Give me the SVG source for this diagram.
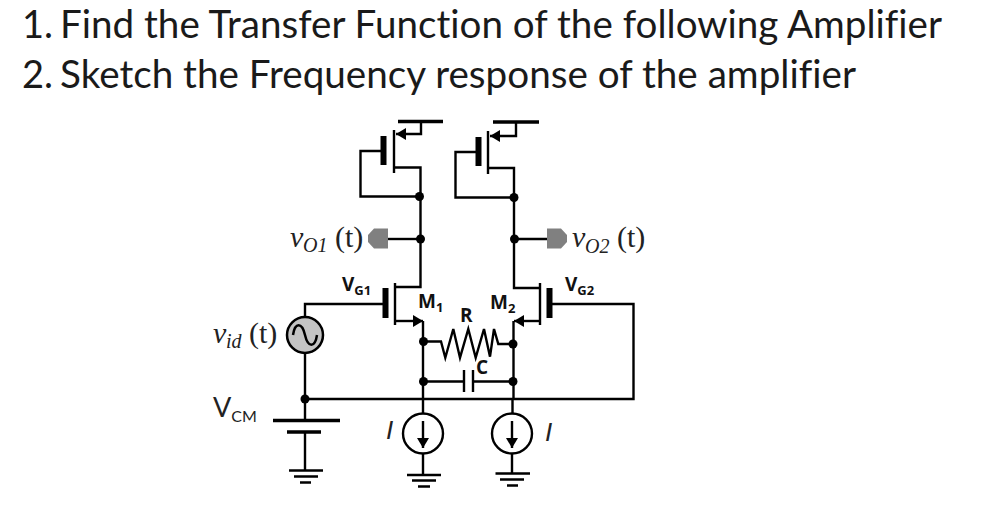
<svg xmlns="http://www.w3.org/2000/svg" width="985" height="531" viewBox="0 0 985 531">
<style>
.w{fill:none;stroke:#000;stroke-width:2.400;stroke-linejoin:miter}
.t{fill:none;stroke:#000;stroke-width:3.500}
.b{fill:none;stroke:#000;stroke-width:6}
.d{fill:#000}
.h{font-family:Lato,"Liberation Sans",sans-serif;font-size:38px;fill:#1a1a1a;font-variant-ligatures:none}
.s{font-family:"Liberation Serif",serif;font-size:30px;fill:#222}
.i{font-style:italic;font-size:30px}
.sub{font-style:italic;font-size:20px}
.l{font-family:"Open Sans","Liberation Sans",sans-serif;font-weight:700;font-size:19px;fill:#111}
.ls{font-size:13px}
.g{fill:#808080}
.it{font-family:"Liberation Sans",sans-serif;font-style:italic;font-size:26px;fill:#222}
</style>
<defs>
<marker id="a" markerUnits="userSpaceOnUse" markerWidth="11" markerHeight="12" refX="10" refY="6" orient="auto"><path d="M0 0L10 6L0 12Z" fill="#000"/></marker>
</defs>
<g id="title">
<text class="h" x="22" y="38">1.</text>
<text class="h" x="60" y="38" textLength="882" lengthAdjust="spacingAndGlyphs">Find the Transfer Function of the following Amplifier</text>
<text class="h" x="22" y="88">2.</text>
<text class="h" x="60" y="88" textLength="796" lengthAdjust="spacingAndGlyphs">Sketch the Frequency response of the amplifier</text>
</g>
<g id="connectors">
<path class="w" d="M421 122V134H396" marker-end="url(#a)"/>
<path class="w" d="M383 151H360.500V196.500H420"/>
<path class="w" d="M394 167.500H420.500V287H395"/>
<path class="w" d="M516 122V136H490" marker-end="url(#a)"/>
<path class="w" d="M478 152H455.500V197.500H514"/>
<path class="w" d="M488 168H514V288H540"/>
<path class="w" d="M420 239H388"/>
<path class="w" d="M514 239H547"/>
<path class="w" d="M305 317V304H385"/>
<path class="w" d="M395 321H423" marker-end="url(#a)"/>
<path class="w" d="M540 321H514" marker-end="url(#a)"/>
<path class="w" d="M423 321V399"/>
<path class="w" d="M513.500 321V399"/>
<path class="w" d="M423 341.500H441L445.300 357.700L453.300 329L460 357.700L468.300 329L475.700 357.700L484 329L490 356.700L494 329L498.300 344H513.500"/>
<path class="w" d="M423 381.500H464M473 381.500H513.500"/>
<path class="w" d="M552 304H633.500V399H305"/>
<path class="w" d="M305 353V420M305 432V471"/>
<path class="w" d="M423 399V413M423 453.500V475"/>
<path class="w" d="M512.500 399V413M512 453.500V473.500"/>
</g>
<g id="M3">
<path class="t" d="M398 121.500H443"/>
<path class="w" d="M394 130V173"/>
<path class="b" d="M383.500 136V165"/>
</g>
<g id="M4">
<path class="t" d="M493 122H539"/>
<path class="w" d="M488 131V174"/>
<path class="b" d="M478.500 137V166"/>
</g>
<g id="M1">
<path class="w" d="M395 283V325"/>
<path class="b" d="M385.500 288V318"/>
<text class="l" x="418" y="308">M<tspan class="ls" dy="4">1</tspan></text>
</g>
<g id="M2">
<path class="w" d="M540 283V325"/>
<path class="b" d="M549.500 288V318"/>
<text class="l" x="490" y="309">M<tspan class="ls" dy="4">2</tspan></text>
</g>
<g id="R"><text class="l" x="460" y="322">R</text></g>
<g id="C">
<path class="w" d="M464 370V392M473 370V392"/>
<text class="l" x="476" y="374">C</text>
</g>
<g id="junctions">
<circle class="d" cx="419.500" cy="196.500" r="4.500"/>
<circle class="d" cx="420.500" cy="239" r="4.500"/>
<circle class="d" cx="514" cy="197.500" r="4.500"/>
<circle class="d" cx="514.500" cy="239" r="4.500"/>
<circle class="d" cx="423.500" cy="341.500" r="4.500"/>
<circle class="d" cx="423.500" cy="381.500" r="4.500"/>
<circle class="d" cx="513" cy="344" r="4.500"/>
<circle class="d" cx="513" cy="381.500" r="4.500"/>
<circle class="d" cx="305" cy="399" r="4.500"/>
</g>
<g id="vo1">
<path class="g" d="M388 228.500H374L368 235V242L374 248.500H388Z"/>
<text class="s" y="247"><tspan class="i" x="290">v</tspan><tspan class="sub" x="303" dy="5">O1</tspan><tspan x="335" dy="-5">(t)</tspan></text>
</g>
<g id="vo2">
<path class="g" d="M547 228.500H561L567 235V242L561 248.500H547Z"/>
<text class="s" y="247"><tspan class="i" x="572">v</tspan><tspan class="sub" x="585" dy="6">O2</tspan><tspan x="617" dy="-6">(t)</tspan></text>
</g>
<g id="VG1"><text class="l" x="342" y="291">V<tspan class="ls" dy="4">G1</tspan></text></g>
<g id="VG2"><text class="l" x="565" y="291">V<tspan class="ls" dy="4">G2</tspan></text></g>
<g id="vid">
<circle cx="305" cy="335" r="18" fill="#c4c4c4" stroke="#000" stroke-width="2.500"/>
<path d="M293 335C295 322 302 322 305 335S315 348 317 335" fill="none" stroke="#000" stroke-width="2.500"/>
<text class="s" y="343"><tspan class="i" x="213">v</tspan><tspan class="sub" x="226" dy="5">id</tspan><tspan x="249" dy="-5">(t)</tspan></text>
</g>
<g id="VCM">
<path class="t" d="M273 420.500H340M287 432H321"/>
<path class="w" d="M289 470.500H323M294 476.500H318M300 482.500H311"/>
<text x="213" y="417" font-family="Lato,'Liberation Sans',sans-serif" font-size="27" fill="#222">V<tspan font-size="16" dy="5">CM</tspan></text>
</g>
<g id="I1">
<circle cx="423" cy="433.500" r="20" fill="none" stroke="#000" stroke-width="2.400"/>
<path class="w" d="M423 421V448" marker-end="url(#a)"/>
<path class="w" d="M407 475H441M412 480.500H436M418 486.500H430"/>
<text class="it" x="386" y="439">I</text>
</g>
<g id="I2">
<circle cx="512" cy="433.500" r="20" fill="none" stroke="#000" stroke-width="2.400"/>
<path class="w" d="M512 421V448" marker-end="url(#a)"/>
<path class="w" d="M495.500 473.500H530M500 479.500H524M507 485.500H518"/>
<text class="it" x="545" y="441">I</text>
</g>
</svg>
